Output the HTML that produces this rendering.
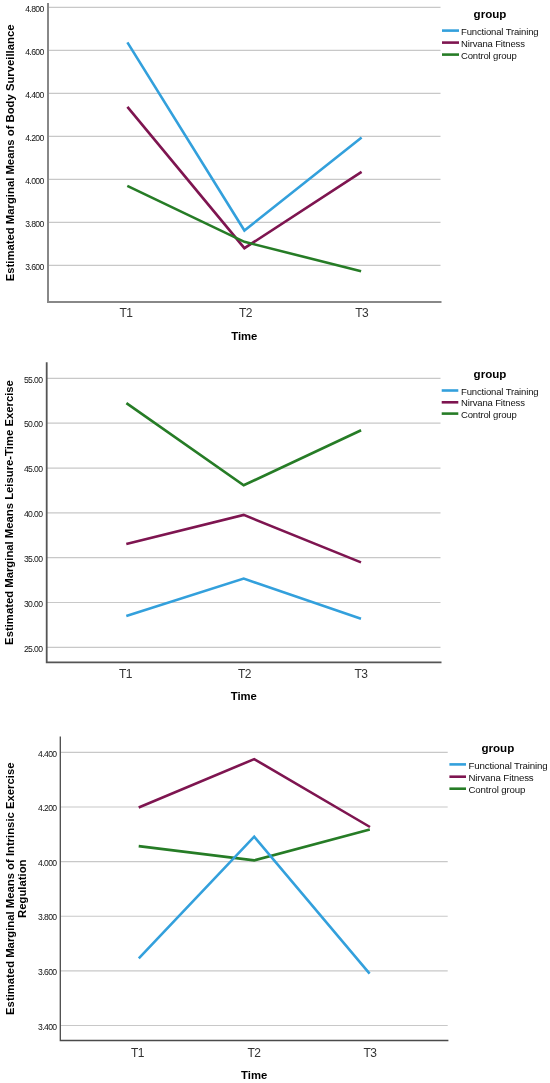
<!DOCTYPE html>
<html><head><meta charset="utf-8"><style>
html,body{margin:0;padding:0;background:#fff;width:550px;height:1083px;overflow:hidden}
svg{display:block;will-change:transform;font-family:"Liberation Sans",sans-serif}
</style></head><body>
<svg width="550" height="1083" viewBox="0 0 550 1083">
<rect width="550" height="1083" fill="#fff"/>
<line x1="48" y1="7.3" x2="440.5" y2="7.3" stroke="#C8C8C8" stroke-width="1.2"/>
<text x="43.7" y="11.5" font-size="8.6" letter-spacing="-0.6" text-anchor="end" fill="#111111">4.800</text>
<line x1="48" y1="50.3" x2="440.5" y2="50.3" stroke="#C8C8C8" stroke-width="1.2"/>
<text x="43.7" y="54.5" font-size="8.6" letter-spacing="-0.6" text-anchor="end" fill="#111111">4.600</text>
<line x1="48" y1="93.3" x2="440.5" y2="93.3" stroke="#C8C8C8" stroke-width="1.2"/>
<text x="43.7" y="97.5" font-size="8.6" letter-spacing="-0.6" text-anchor="end" fill="#111111">4.400</text>
<line x1="48" y1="136.3" x2="440.5" y2="136.3" stroke="#C8C8C8" stroke-width="1.2"/>
<text x="43.7" y="140.5" font-size="8.6" letter-spacing="-0.6" text-anchor="end" fill="#111111">4.200</text>
<line x1="48" y1="179.3" x2="440.5" y2="179.3" stroke="#C8C8C8" stroke-width="1.2"/>
<text x="43.7" y="183.5" font-size="8.6" letter-spacing="-0.6" text-anchor="end" fill="#111111">4.000</text>
<line x1="48" y1="222.3" x2="440.5" y2="222.3" stroke="#C8C8C8" stroke-width="1.2"/>
<text x="43.7" y="226.5" font-size="8.6" letter-spacing="-0.6" text-anchor="end" fill="#111111">3.800</text>
<line x1="48" y1="265.3" x2="440.5" y2="265.3" stroke="#C8C8C8" stroke-width="1.2"/>
<text x="43.7" y="269.5" font-size="8.6" letter-spacing="-0.6" text-anchor="end" fill="#111111">3.600</text>
<path d="M48 3 L48 302 L441.5 302" fill="none" stroke="#888888" stroke-width="2"/>
<text x="126" y="317.4" font-size="12" letter-spacing="-0.6" text-anchor="middle" fill="#333">T1</text>
<text x="245.4" y="317.4" font-size="12" letter-spacing="-0.6" text-anchor="middle" fill="#333">T2</text>
<text x="361.7" y="317.4" font-size="12" letter-spacing="-0.6" text-anchor="middle" fill="#333">T3</text>
<text x="244.3" y="339.7" font-size="11.3" font-weight="bold" text-anchor="middle" fill="#000">Time</text>
<text transform="translate(13.8 152.9) rotate(-90)" x="0" y="0" font-size="11.3" font-weight="bold" text-anchor="middle" fill="#000">Estimated Marginal Means of Body Surveillance</text>
<path d="M127.4 42.4 L244.4 230.5 L361.6 137.4" fill="none" stroke="#33A0DC" stroke-width="2.6" stroke-linejoin="miter"/>
<path d="M127.4 106.8 L244.4 248.2 L361.6 171.8" fill="none" stroke="#7E1550" stroke-width="2.6" stroke-linejoin="miter"/>
<path d="M127.3 185.8 L244.4 241.8 L361.1 271.3" fill="none" stroke="#267C26" stroke-width="2.6" stroke-linejoin="miter"/>
<text x="490" y="18.2" font-size="11.6" font-weight="bold" text-anchor="middle" fill="#000">group</text>
<line x1="442" y1="30.6" x2="459" y2="30.6" stroke="#33A0DC" stroke-width="2.6"/>
<text x="461" y="34.7" font-size="9.5" letter-spacing="-0.15" fill="#111111">Functional Training</text>
<line x1="442" y1="42.6" x2="459" y2="42.6" stroke="#7E1550" stroke-width="2.6"/>
<text x="461" y="46.7" font-size="9.5" letter-spacing="-0.15" fill="#111111">Nirvana Fitness</text>
<line x1="442" y1="54.6" x2="459" y2="54.6" stroke="#267C26" stroke-width="2.6"/>
<text x="461" y="58.7" font-size="9.5" letter-spacing="-0.15" fill="#111111">Control group</text>
<line x1="46.7" y1="378.4" x2="440.5" y2="378.4" stroke="#C8C8C8" stroke-width="1.2"/>
<text x="42.4" y="382.59999999999997" font-size="8.6" letter-spacing="-0.6" text-anchor="end" fill="#111111">55.00</text>
<line x1="46.7" y1="423.21999999999997" x2="440.5" y2="423.21999999999997" stroke="#C8C8C8" stroke-width="1.2"/>
<text x="42.4" y="427.41999999999996" font-size="8.6" letter-spacing="-0.6" text-anchor="end" fill="#111111">50.00</text>
<line x1="46.7" y1="468.03999999999996" x2="440.5" y2="468.03999999999996" stroke="#C8C8C8" stroke-width="1.2"/>
<text x="42.4" y="472.23999999999995" font-size="8.6" letter-spacing="-0.6" text-anchor="end" fill="#111111">45.00</text>
<line x1="46.7" y1="512.86" x2="440.5" y2="512.86" stroke="#C8C8C8" stroke-width="1.2"/>
<text x="42.4" y="517.0600000000001" font-size="8.6" letter-spacing="-0.6" text-anchor="end" fill="#111111">40.00</text>
<line x1="46.7" y1="557.68" x2="440.5" y2="557.68" stroke="#C8C8C8" stroke-width="1.2"/>
<text x="42.4" y="561.88" font-size="8.6" letter-spacing="-0.6" text-anchor="end" fill="#111111">35.00</text>
<line x1="46.7" y1="602.5" x2="440.5" y2="602.5" stroke="#C8C8C8" stroke-width="1.2"/>
<text x="42.4" y="606.7" font-size="8.6" letter-spacing="-0.6" text-anchor="end" fill="#111111">30.00</text>
<line x1="46.7" y1="647.3199999999999" x2="440.5" y2="647.3199999999999" stroke="#C8C8C8" stroke-width="1.2"/>
<text x="42.4" y="651.52" font-size="8.6" letter-spacing="-0.6" text-anchor="end" fill="#111111">25.00</text>
<path d="M46.7 362.3 L46.7 662.3 L441.5 662.3" fill="none" stroke="#555555" stroke-width="1.8"/>
<text x="125.5" y="677.8" font-size="12" letter-spacing="-0.6" text-anchor="middle" fill="#333">T1</text>
<text x="244.5" y="677.8" font-size="12" letter-spacing="-0.6" text-anchor="middle" fill="#333">T2</text>
<text x="361" y="677.8" font-size="12" letter-spacing="-0.6" text-anchor="middle" fill="#333">T3</text>
<text x="243.8" y="700.3" font-size="11.3" font-weight="bold" text-anchor="middle" fill="#000">Time</text>
<text transform="translate(12.5 512.5) rotate(-90)" x="0" y="0" font-size="11.3" font-weight="bold" text-anchor="middle" fill="#000">Estimated Marginal Means Leisure-Time Exercise</text>
<path d="M126.4 403.1 L243.7 485.3 L361.1 430.3" fill="none" stroke="#267C26" stroke-width="2.6" stroke-linejoin="miter"/>
<path d="M126.3 543.9 L243.7 514.9 L361 562.4" fill="none" stroke="#7E1550" stroke-width="2.6" stroke-linejoin="miter"/>
<path d="M126.3 616.0 L243.7 578.6 L361 618.8" fill="none" stroke="#33A0DC" stroke-width="2.6" stroke-linejoin="miter"/>
<text x="490" y="378.0" font-size="11.6" font-weight="bold" text-anchor="middle" fill="#000">group</text>
<line x1="441.7" y1="390.5" x2="458.3" y2="390.5" stroke="#33A0DC" stroke-width="2.6"/>
<text x="461" y="394.6" font-size="9.5" letter-spacing="-0.15" fill="#111111">Functional Training</text>
<line x1="441.7" y1="402.3" x2="458.3" y2="402.3" stroke="#7E1550" stroke-width="2.6"/>
<text x="461" y="406.40000000000003" font-size="9.5" letter-spacing="-0.15" fill="#111111">Nirvana Fitness</text>
<line x1="441.7" y1="413.6" x2="458.3" y2="413.6" stroke="#267C26" stroke-width="2.6"/>
<text x="461" y="417.70000000000005" font-size="9.5" letter-spacing="-0.15" fill="#111111">Control group</text>
<line x1="60.3" y1="752.4" x2="447.7" y2="752.4" stroke="#C8C8C8" stroke-width="1.2"/>
<text x="56.5" y="756.6" font-size="8.6" letter-spacing="-0.6" text-anchor="end" fill="#111111">4.400</text>
<line x1="60.3" y1="807.02" x2="447.7" y2="807.02" stroke="#C8C8C8" stroke-width="1.2"/>
<text x="56.5" y="811.22" font-size="8.6" letter-spacing="-0.6" text-anchor="end" fill="#111111">4.200</text>
<line x1="60.3" y1="861.64" x2="447.7" y2="861.64" stroke="#C8C8C8" stroke-width="1.2"/>
<text x="56.5" y="865.84" font-size="8.6" letter-spacing="-0.6" text-anchor="end" fill="#111111">4.000</text>
<line x1="60.3" y1="916.26" x2="447.7" y2="916.26" stroke="#C8C8C8" stroke-width="1.2"/>
<text x="56.5" y="920.46" font-size="8.6" letter-spacing="-0.6" text-anchor="end" fill="#111111">3.800</text>
<line x1="60.3" y1="970.88" x2="447.7" y2="970.88" stroke="#C8C8C8" stroke-width="1.2"/>
<text x="56.5" y="975.08" font-size="8.6" letter-spacing="-0.6" text-anchor="end" fill="#111111">3.600</text>
<line x1="60.3" y1="1025.5" x2="447.7" y2="1025.5" stroke="#C8C8C8" stroke-width="1.2"/>
<text x="56.5" y="1029.7" font-size="8.6" letter-spacing="-0.6" text-anchor="end" fill="#111111">3.400</text>
<path d="M60.3 736.4 L60.3 1040.5 L448.4 1040.5" fill="none" stroke="#4a4a4a" stroke-width="1.3"/>
<text x="137.5" y="1056.5" font-size="12" letter-spacing="-0.6" text-anchor="middle" fill="#333">T1</text>
<text x="254" y="1056.5" font-size="12" letter-spacing="-0.6" text-anchor="middle" fill="#333">T2</text>
<text x="370" y="1056.5" font-size="12" letter-spacing="-0.6" text-anchor="middle" fill="#333">T3</text>
<text x="254.2" y="1079.2" font-size="11.3" font-weight="bold" text-anchor="middle" fill="#000">Time</text>
<text transform="translate(14 888.75) rotate(-90)" x="0" y="0" font-size="11.3" font-weight="bold" text-anchor="middle" fill="#000">Estimated Marginal Means of Intrinsic Exercise</text>
<text transform="translate(25.8 888.75) rotate(-90)" x="0" y="0" font-size="11.3" font-weight="bold" text-anchor="middle" fill="#000">Regulation</text>
<path d="M138.7 807.5 L254.2 759.1 L370 827" fill="none" stroke="#7E1550" stroke-width="2.6" stroke-linejoin="miter"/>
<path d="M138.7 846.1 L254.2 860.4 L369.8 829.6" fill="none" stroke="#267C26" stroke-width="2.6" stroke-linejoin="miter"/>
<path d="M138.8 958.3 L254.2 836.6 L369.6 973.6" fill="none" stroke="#33A0DC" stroke-width="2.6" stroke-linejoin="miter"/>
<text x="497.8" y="752.3" font-size="11.6" font-weight="bold" text-anchor="middle" fill="#000">group</text>
<line x1="449.4" y1="764.4" x2="466" y2="764.4" stroke="#33A0DC" stroke-width="2.6"/>
<text x="468.5" y="768.6999999999999" font-size="9.7" letter-spacing="-0.15" fill="#111111">Functional Training</text>
<line x1="449.4" y1="776.7" x2="466" y2="776.7" stroke="#7E1550" stroke-width="2.6"/>
<text x="468.5" y="781.0" font-size="9.7" letter-spacing="-0.15" fill="#111111">Nirvana Fitness</text>
<line x1="449.4" y1="788.7" x2="466" y2="788.7" stroke="#267C26" stroke-width="2.6"/>
<text x="468.5" y="793.0" font-size="9.7" letter-spacing="-0.15" fill="#111111">Control group</text>
</svg>
</body></html>
